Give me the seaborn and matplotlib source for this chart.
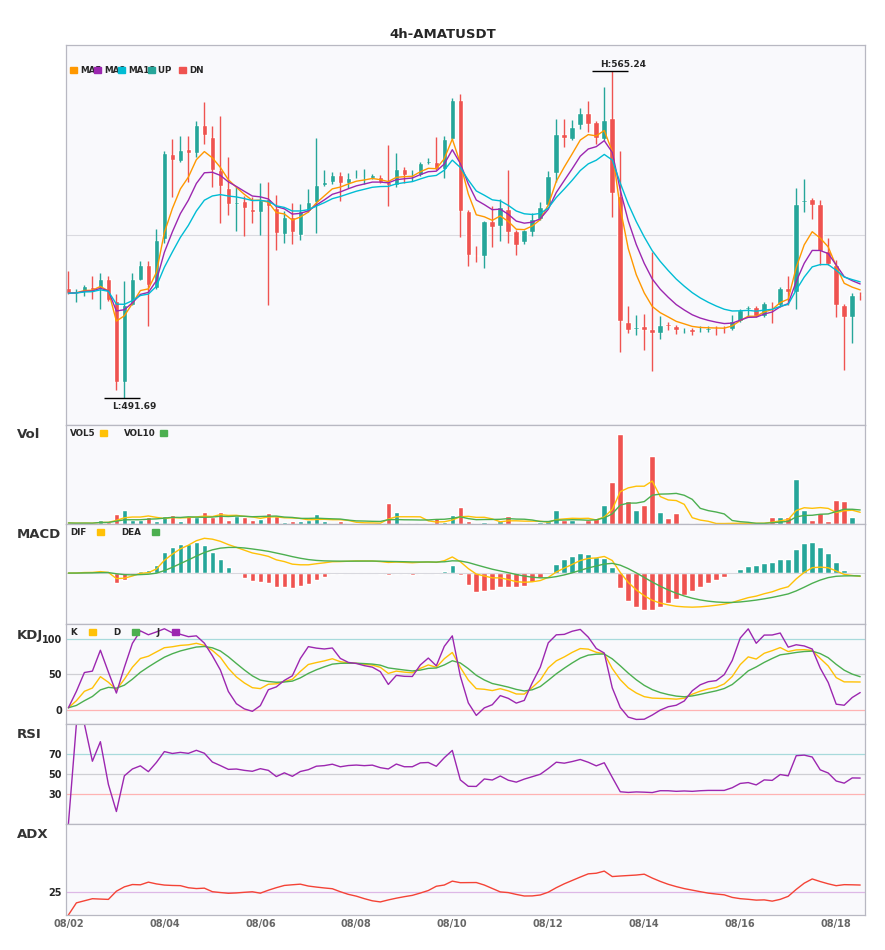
import numpy as np
import pandas as pd
import matplotlib
matplotlib.use('Agg')
import matplotlib.pyplot as plt
from matplotlib.patches import Patch
import seaborn as sns

# 4h candles for AMATUSDT
opens = [516.42, 515.29, 515.52, 516.64, 516.42, 518.52, 513.56, 495.38, 512.66, 518.30,
         521.68, 516.42, 527.54, 546.70, 544.97, 547.82, 546.77, 553.23, 550.53, 543.09,
         539.03, 535.28, 536.10, 534.30, 533.47, 536.48, 534.45, 528.59, 532.42, 528.29,
         533.77, 535.80, 539.56, 540.23, 541.96, 540.01, 541.36, 541.14, 541.21, 541.51,
         540.31, 539.63, 543.31, 541.59, 541.81, 544.52, 544.89, 543.31, 550.08, 558.87,
         533.77, 523.86, 523.56, 531.59, 530.32, 534.30, 529.34, 526.71, 529.12, 532.05,
         535.20, 542.26, 551.13, 550.08, 553.23, 555.94, 553.91, 550.08, 554.81, 537.23,
         508.83, 507.18, 508.00, 507.18, 506.20, 508.23, 508.00, 506.88, 507.25, 506.88,
         507.10, 507.48, 507.55, 507.18, 508.91, 511.83, 512.06, 510.03, 512.89, 512.66,
         516.34, 515.44, 535.73, 536.48, 535.28, 524.76, 521.60, 512.66, 509.81, 514.99]
highs = [520.32, 516.19, 517.09, 519.20, 519.87, 519.05, 515.14, 518.07, 519.80, 522.58,
         522.58, 529.72, 547.22, 550.08, 550.75, 550.75, 554.13, 558.42, 553.01, 555.26,
         545.94, 539.11, 537.08, 536.85, 540.08, 540.38, 537.45, 533.70, 535.58, 535.35,
         538.81, 550.23, 542.94, 542.49, 542.49, 542.34, 543.09, 543.31, 542.11, 541.89,
         548.72, 546.85, 543.69, 543.09, 544.89, 545.79, 550.45, 550.68, 559.24, 560.22,
         533.92, 525.88, 531.59, 534.82, 536.48, 543.09, 529.57, 529.57, 533.32, 535.80,
         542.71, 554.58, 554.58, 554.21, 556.91, 558.64, 554.06, 561.80, 565.24, 547.37,
         512.44, 510.33, 510.56, 524.46, 510.18, 508.68, 508.15, 507.33, 507.40, 507.78,
         507.93, 508.00, 507.85, 510.41, 511.69, 512.29, 512.29, 513.34, 513.26, 516.72,
         519.20, 538.88, 541.06, 536.63, 536.18, 527.61, 522.65, 512.81, 515.29, 515.52]
lows = [515.14, 513.19, 514.54, 513.94, 511.83, 513.56, 493.50, 491.69, 512.51, 518.15,
        507.78, 516.27, 526.56, 536.85, 544.74, 540.23, 545.94, 548.87, 539.11, 530.99,
        532.80, 529.19, 528.06, 531.07, 528.36, 512.66, 524.91, 526.56, 526.34, 527.16,
        533.62, 528.81, 539.41, 539.86, 535.95, 538.96, 541.21, 539.86, 541.06, 540.16,
        534.82, 539.11, 540.08, 540.61, 541.66, 544.37, 543.01, 541.14, 549.93, 527.84,
        521.45, 522.20, 520.85, 525.58, 527.09, 526.56, 523.78, 526.41, 528.06, 531.82,
        535.05, 540.23, 548.12, 549.85, 552.33, 551.58, 548.95, 549.85, 532.35, 501.92,
        506.28, 505.90, 502.52, 497.79, 504.85, 506.88, 506.13, 506.28, 505.75, 506.50,
        506.50, 505.90, 506.28, 506.95, 508.76, 510.11, 509.88, 509.81, 508.60, 512.14,
        512.66, 511.76, 533.47, 532.05, 521.68, 521.60, 509.96, 498.01, 503.95, 513.79]
closes = [515.29, 515.52, 516.94, 516.04, 518.52, 513.79, 495.38, 512.59, 518.52, 521.68,
          517.02, 527.31, 546.92, 545.19, 547.60, 546.77, 553.23, 550.83, 542.94, 539.33,
          535.28, 535.73, 534.37, 533.47, 536.33, 534.82, 528.81, 532.50, 528.96, 533.85,
          535.80, 539.71, 540.38, 541.96, 540.01, 541.29, 541.74, 541.36, 541.81, 540.31,
          539.56, 543.31, 541.81, 541.81, 544.67, 544.97, 543.16, 550.08, 558.87, 533.70,
          523.78, 523.56, 531.59, 530.09, 534.67, 528.96, 526.19, 529.42, 532.05, 534.75,
          541.74, 551.13, 550.15, 552.71, 555.94, 553.46, 550.15, 554.36, 537.76, 508.91,
          507.10, 507.70, 507.10, 506.20, 508.08, 508.00, 506.95, 507.25, 506.65, 507.10,
          507.33, 507.33, 507.33, 508.91, 511.53, 512.06, 510.03, 513.04, 512.66, 516.34,
          515.44, 535.43, 536.33, 535.05, 524.83, 521.75, 512.66, 509.81, 514.92, 514.77]
volumes = [3, 2, 3, 2, 13, 5, 31, 43, 13, 13,
           21, 10, 25, 28, 8, 25, 21, 37, 21, 37,
           13, 23, 21, 13, 15, 34, 25, 7, 10, 8,
           13, 30, 10, 4, 8, 2, 2, 2, 2, 4,
           64, 37, 2, 2, 3, 4, 19, 6, 28, 52,
           10, 4, 7, 4, 8, 25, 4, 2, 4, 7,
           10, 43, 13, 13, 4, 13, 18, 58, 127, 271,
           70, 43, 58, 205, 37, 19, 34, 1, 4, 1,
           1, 0.5, 0.5, 7, 2, 1, 1, 1, 22, 22,
           22, 136, 43, 13, 33, 10, 73, 70, 22, 1]
ma_spans = [5, 8, 13]

UP, DN = '#26A69A', '#EF5350'
YEL, GRN, PUR = '#FFC107', '#4CAF50', '#9C27B0'
MA_COLORS = ['#FF9800', PUR, '#00BCD4']
BG = '#F9F9FC'
SPINE = '#B8B8C2'

df = pd.DataFrame({'open': opens, 'high': highs, 'low': lows,
                   'close': closes, 'vol': volumes})
df['t'] = pd.date_range('2025-08-02', periods=len(df), freq='4h')
df['i'] = np.arange(len(df))
df['up'] = df['close'] >= df['open']

# moving averages
for n in ma_spans:
    df[f'ma{n}'] = df['close'].ewm(span=n, adjust=False).mean()
df['vol5'] = df['vol'].rolling(5, min_periods=1).mean()
df['vol10'] = df['vol'].rolling(10, min_periods=1).mean()

# MACD
dif = df['close'].ewm(span=12, adjust=False).mean() - df['close'].ewm(span=26, adjust=False).mean()
dea = dif.ewm(span=9, adjust=False).mean()
df['dif'], df['dea'], df['macd_bar'] = dif, dea, 2 * (dif - dea)

# KDJ
low9 = df['low'].rolling(9, min_periods=1).min()
high9 = df['high'].rolling(9, min_periods=1).max()
rsv = (df['close'] - low9) / (high9 - low9) * 100
df['k'] = rsv.ewm(com=2, adjust=False).mean()
df['d'] = df['k'].ewm(com=2, adjust=False).mean()
df['j'] = 3 * df['k'] - 2 * df['d']

# RSI
delta = df['close'].diff()
gain = delta.clip(lower=0).ewm(com=13).mean()
loss = (-delta).clip(lower=0).ewm(com=13).mean()
df['rsi'] = (100 - 100 / (1 + gain / loss)).fillna(0)

# ADX
up_move = df['high'].diff()
down_move = -df['low'].diff()
plus_dm = pd.Series(np.where((up_move > down_move) & (up_move > 0), up_move, 0.0))
minus_dm = pd.Series(np.where((down_move > up_move) & (down_move > 0), down_move, 0.0))
prev_c = df['close'].shift()
tr = pd.concat([df['high'] - df['low'], (df['high'] - prev_c).abs(),
                (df['low'] - prev_c).abs()], axis=1).max(axis=1)
atr = tr.ewm(span=14, adjust=False).mean()
pdi = 100 * plus_dm.ewm(span=14, adjust=False).mean() / atr
mdi = 100 * minus_dm.ewm(span=14, adjust=False).mean() / atr
dx = (100 * (pdi - mdi).abs() / (pdi + mdi)).fillna(0)
df['adx'] = dx.ewm(span=14, adjust=False).mean()

sns.set_theme(style='white')
plt.rcParams['font.family'] = ['DejaVu Sans']

fig = plt.figure(figsize=(8.85, 9.5), dpi=100)
W, H = 885, 950
left, right = 66, 865
rows = [(45, 425), (425, 524), (524, 624), (624, 724), (724, 824), (824, 915)]
axes = []
for top, bot in rows:
    ax = fig.add_axes([left / W, 1 - bot / H, (right - left) / W, (bot - top) / H])
    ax.set_facecolor(BG)
    for s in ax.spines.values():
        s.set_color(SPINE)
        s.set_linewidth(0.9)
    ax.set_xlim(-0.3, len(df) - 0.4)
    ax.tick_params(length=0, labelsize=7, pad=3)
    ax.set_xticks([])
    axes.append(ax)
ax_p, ax_v, ax_m, ax_k, ax_r, ax_a = axes


def small_legend(ax, items, markerfirst=True, spacing=2.0, textpad=0.5, anchor=(0, 1.0)):
    hs = [Patch(color=c, label=l) for l, c in items]
    leg = ax.legend(handles=hs, loc='upper left', bbox_to_anchor=anchor, ncol=len(hs),
                    frameon=False, markerfirst=markerfirst, handlelength=0.8,
                    handleheight=0.8, handletextpad=textpad, columnspacing=spacing,
                    prop={'size': 6.3, 'weight': 'bold'}, borderaxespad=0.05)
    return leg


# price panel
colors = np.where(df['up'], UP, DN)
ax_p.vlines(df['i'], df['low'], df['high'], colors=colors, lw=1.0)
body = (df['close'] - df['open']).abs().clip(lower=0.15)
ax_p.bar(df['i'], body, bottom=df[['open', 'close']].min(axis=1), width=0.7, color=colors)
for n, c in zip(ma_spans, MA_COLORS):
    sns.lineplot(x=df['i'], y=df[f'ma{n}'], ax=ax_p, color=c, lw=1.0, legend=False)
lo, hi = df['low'].min(), df['high'].max()
r = hi - lo
ax_p.set_ylim(lo - 0.083 * r, hi + 0.081 * r)
mid = (lo - 0.083 * r + hi + 0.081 * r) / 2
ax_p.set_yticks([mid])
ax_p.set_yticklabels([])
ax_p.grid(axis='y', color='#DADAE0', lw=0.8)
ih, il = df['high'].idxmax(), df['low'].idxmin()
ax_p.hlines(hi, ih - 2.5, ih + 2.0, color='black', lw=1.0)
ax_p.annotate(f'H:{hi:.2f}', (ih + 1.4, hi), xytext=(0, 2), textcoords='offset points',
              ha='center', va='bottom', fontsize=6.5, fontweight='bold')
ax_p.hlines(lo, il - 2.5, il + 1.9, color='black', lw=1.0)
ax_p.annotate(f'L:{lo:.2f}', (il + 1.25, lo), xytext=(0, -3), textcoords='offset points',
              ha='center', va='top', fontsize=6.5, fontweight='bold')
ma_items = [(f'MA{n}', c) for n, c in zip(ma_spans, MA_COLORS)]
small_legend(ax_p, ma_items + [('UP     ', UP), ('DN', DN)],
             spacing=-0.86, textpad=0.35, anchor=(0, 0.955))

# volume
ax_v.bar(df['i'], df['vol'], width=0.7, color=colors)
sns.lineplot(x=df['i'], y=df['vol5'], ax=ax_v, color=YEL, lw=1.0, legend=False)
sns.lineplot(x=df['i'], y=df['vol10'], ax=ax_v, color=GRN, lw=1.0, legend=False)
ax_v.set_ylim(0, df['vol'].max() * 1.1)
ax_v.set_yticks([])
small_legend(ax_v, [('VOL5', YEL), ('VOL10', GRN)], markerfirst=False,
             spacing=1.95, textpad=0.5)

# MACD
ax_m.axhline(0, color='#D8D8DE', lw=0.8)
ax_m.bar(df['i'], df['macd_bar'], width=0.7, color=np.where(df['macd_bar'] >= 0, UP, DN))
sns.lineplot(x=df['i'], y=df['dif'], ax=ax_m, color=YEL, lw=1.0, legend=False)
sns.lineplot(x=df['i'], y=df['dea'], ax=ax_m, color=GRN, lw=1.0, legend=False)
mlo = min(df['dif'].min(), df['dea'].min(), df['macd_bar'].min())
mhi = max(df['dif'].max(), df['dea'].max(), df['macd_bar'].max())
mr = mhi - mlo
ax_m.set_ylim(mlo - 0.2 * mr, mhi + 0.2 * mr)
ax_m.set_yticks([])
small_legend(ax_m, [('DIF', YEL), ('DEA', GRN)], markerfirst=False,
             spacing=2.0, textpad=1.25)

# KDJ
for v, c in [(100, '#A8DADC'), (50, '#CFCFD4'), (0, '#FFB3B3')]:
    ax_k.axhline(v, color=c, lw=0.9)
sns.lineplot(x=df['i'], y=df['k'], ax=ax_k, color=YEL, lw=1.0, legend=False)
sns.lineplot(x=df['i'], y=df['d'], ax=ax_k, color=GRN, lw=1.0, legend=False)
sns.lineplot(x=df['i'], y=df['j'], ax=ax_k, color=PUR, lw=1.0, legend=False)
ax_k.set_ylim(-20, 121)
ax_k.set_yticks([0, 50, 100])
small_legend(ax_k, [('K', YEL), ('D', GRN), ('J', PUR)], markerfirst=False,
             spacing=1.95, textpad=1.4)

# RSI
for v, c in [(70, '#A8DADC'), (50, '#CFCFD4'), (30, '#FFB3B3')]:
    ax_r.axhline(v, color=c, lw=0.9)
sns.lineplot(x=df['i'], y=df['rsi'], ax=ax_r, color=PUR, lw=1.0, legend=False)
ax_r.set_ylim(0, 100)
ax_r.set_yticks([30, 50, 70])

# ADX
ax_a.axhline(25, color='#DDB8E6', lw=0.9)
sns.lineplot(x=df['i'], y=df['adx'], ax=ax_a, color='#F44336', lw=1.0, legend=False)
ax_a.set_ylim(0, 100)
ax_a.set_yticks([25])
ticks = df['i'][(df['t'].dt.hour == 0) & ((df['t'].dt.day % 2) == 0)]
ax_a.set_xticks(ticks)
ax_a.set_xticklabels(df['t'][ticks].dt.strftime('%m/%d'), color='#666666', fontweight='bold')

for ax in axes:
    ax.set_xlabel('')
    ax.set_ylabel('')
    for lab in ax.get_yticklabels():
        lab.set_fontweight('bold')

fig.text(0.5, 1 - 34 / H, '4h-AMATUSDT', ha='center', va='center',
         fontsize=9.5, fontweight='bold')
for name, y in [('Vol', 434), ('MACD', 535), ('KDJ', 635), ('RSI', 735), ('ADX', 835)]:
    fig.text(17 / W, 1 - y / H, name, ha='left', va='center', fontsize=9.5,
             fontweight='bold', color='#333333')

fig.savefig('out.png', dpi=100)
